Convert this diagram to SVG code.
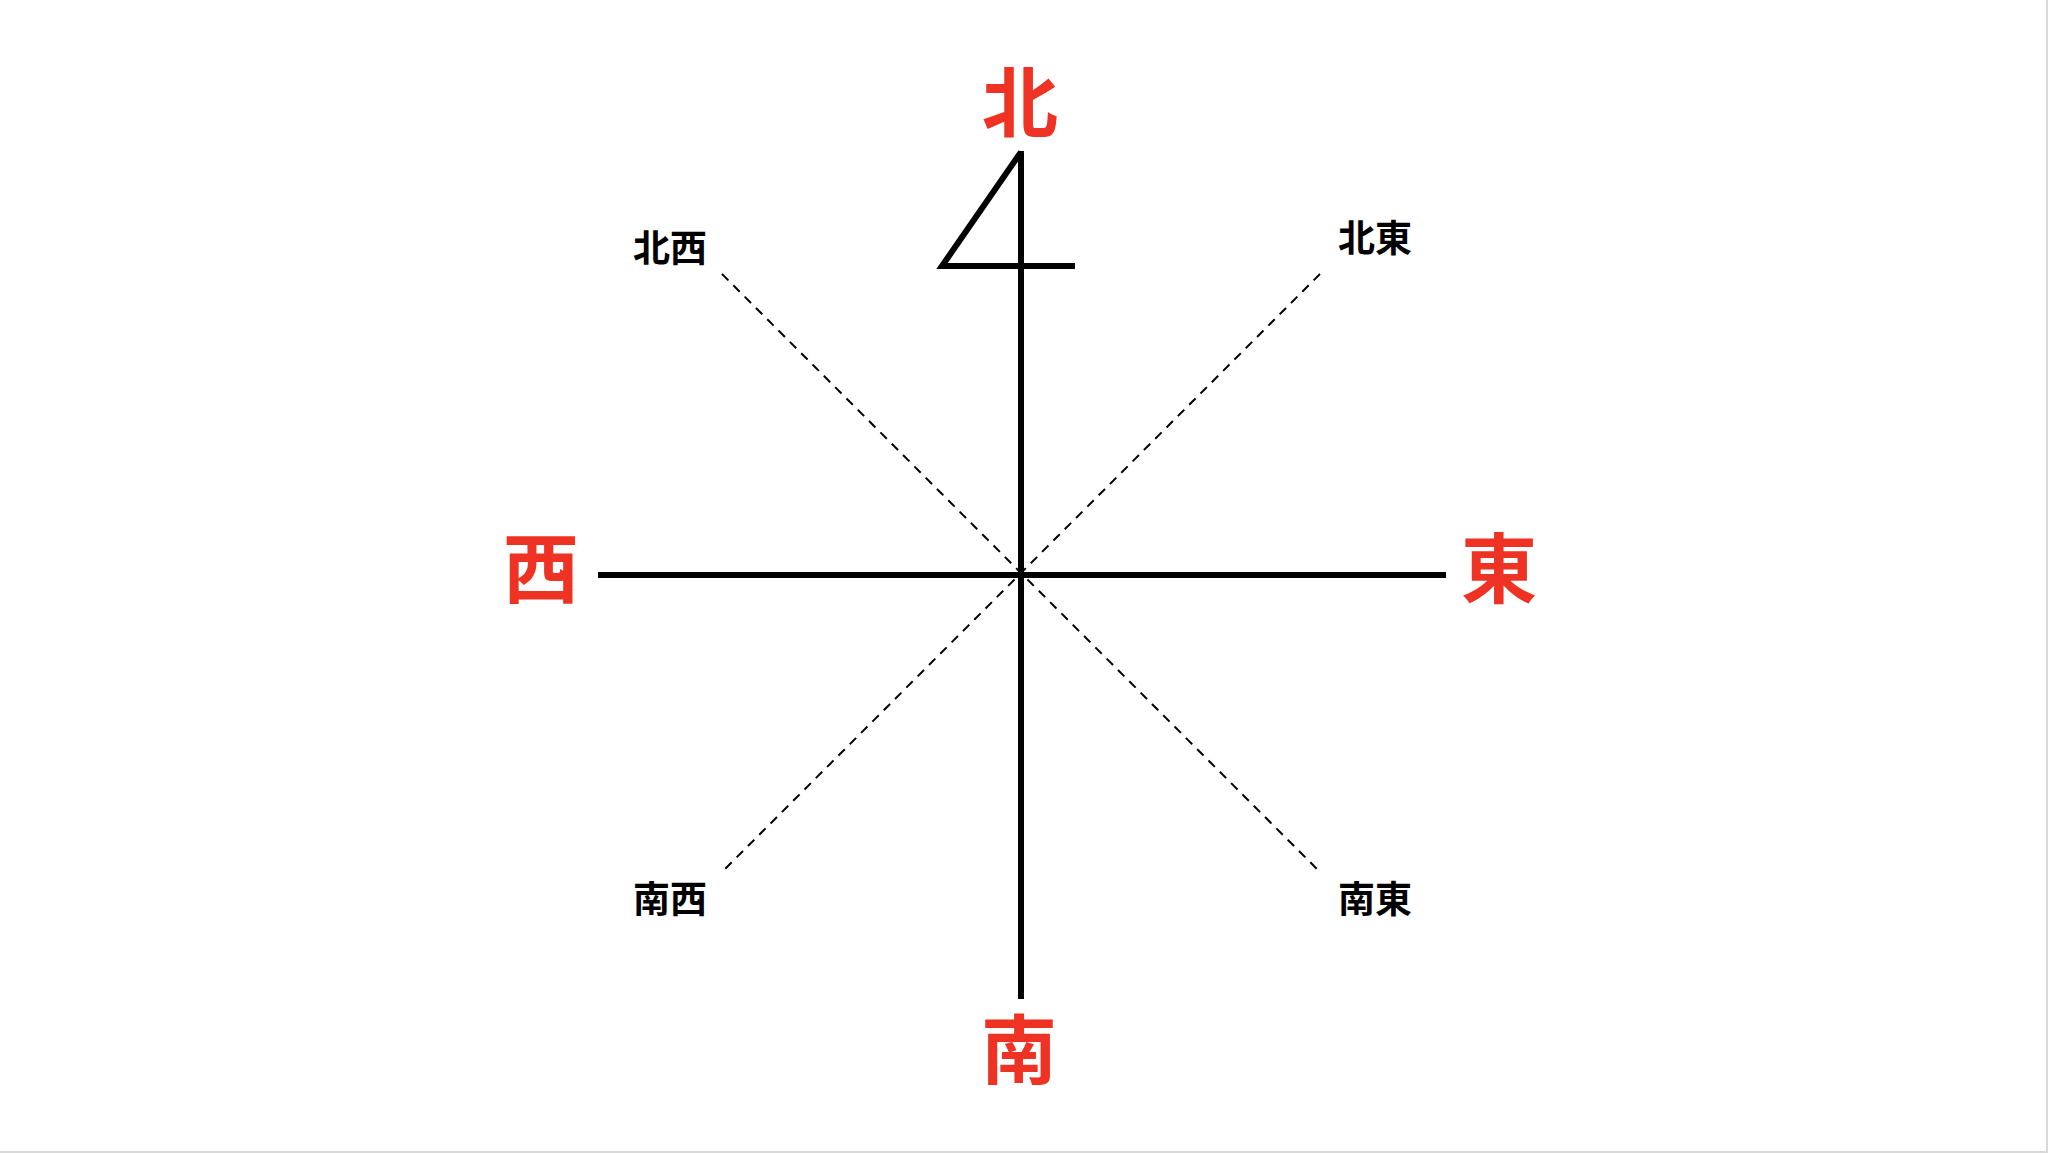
<svg xmlns="http://www.w3.org/2000/svg" width="2048" height="1153" viewBox="0 0 2048 1153">
<style>
.axis{stroke:#000;stroke-width:6;fill:none;stroke-linecap:butt}
.diag{stroke:#000;stroke-width:2;fill:none;stroke-dasharray:9 7}
.big{font-family:"Noto Sans CJK JP","Noto Sans CJK SC",sans-serif;font-weight:bold;font-size:76px;fill:#EE3224;text-anchor:middle}
.small{font-family:"Noto Sans CJK JP","Noto Sans CJK SC",sans-serif;font-weight:bold;font-size:37px;fill:#000;text-anchor:middle}
</style>
<rect x="0" y="0" width="2048" height="1153" fill="#fff"/>
<rect x="2046" y="0" width="2" height="1153" fill="#D9D9D9"/>
<rect x="0" y="1151" width="2048" height="2" fill="#D9D9D9"/>
<g id="connectors">
<line class="diag" x1="722" y1="274" x2="1320" y2="872"/>
<line class="diag" x1="1320" y1="274" x2="722" y2="872"/>
<line class="axis" x1="598" y1="575" x2="1446" y2="575"/>
<line class="axis" x1="1021" y1="151" x2="1021" y2="999"/>
<polyline class="axis" points="1021,152 942,266 1075,266" stroke-linejoin="miter"/>
</g>
<g id="north"><text class="big" x="1020" y="131">北</text></g>
<g id="south"><text class="big" x="1019" y="1078">南</text></g>
<g id="west"><text class="big" x="541" y="597">西</text></g>
<g id="east"><text class="big" x="1499" y="597">東</text></g>
<g id="northwest"><text class="small" x="670" y="262">北西</text></g>
<g id="northeast"><text class="small" x="1375" y="252">北東</text></g>
<g id="southwest"><text class="small" x="670" y="913">南西</text></g>
<g id="southeast"><text class="small" x="1375" y="913">南東</text></g>
</svg>
